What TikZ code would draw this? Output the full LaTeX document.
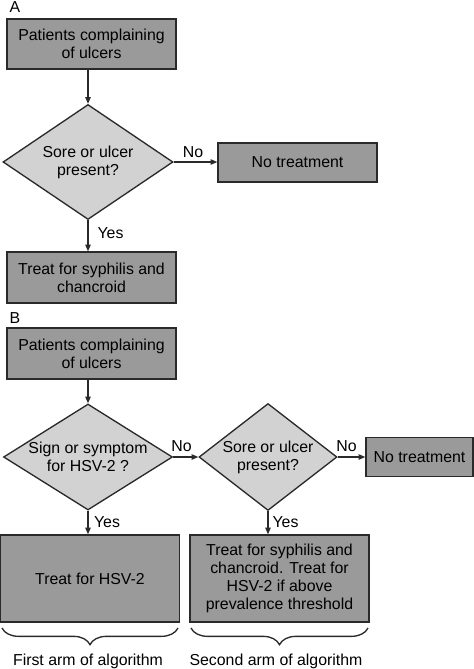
\documentclass[tikz,border=0pt]{standalone}
\usepackage{fontspec}
\setmainfont{Liberation Sans}
\usetikzlibrary{shapes.geometric,arrows.meta,decorations.pathreplacing}
\newlength\PX \setlength\PX{0.75pt}
\definecolor{boxgray}{HTML}{9A9A9A}
\definecolor{diagray}{HTML}{D2D2D2}
\definecolor{linegray}{HTML}{2A2A2A}
\begin{document}
\begin{tikzpicture}[x=0.75pt,y=-0.75pt,
  every node/.style={font=\fontsize{11.9}{13.4}\selectfont, text=black},
  stepbox/.style={rectangle, draw=linegray, line width=1pt, fill=boxgray, inner sep=0pt, align=center},
  decision/.style={diamond, draw=linegray, line width=1pt, fill=diagray, inner sep=0pt, aspect=1.5},
  conn/.style={draw=linegray, line width=1pt, -{Triangle[length=5pt,width=4pt]}},
  lbl/.style={inner sep=0pt},
  arm/.style={draw=linegray, line width=1pt, decorate, decoration={brace, mirror, amplitude=12.5pt}}
]
\useasboundingbox (0,0) rectangle (474,669);

% ---------- Part A ----------
\node[lbl] (lA) at (15,7) {A};
\node[stepbox, minimum width=169*\PX, minimum height=50*\PX] (a1) at (91.5,44) {Patients complaining\\of ulcers};
\node[decision, minimum width=170*\PX, minimum height=115*\PX,
      label={[align=center, inner sep=0pt]center:Sore or ulcer\\present?}] (d1) at (88,162) {};
\node[stepbox, minimum width=159*\PX, minimum height=39*\PX] (nt1) at (297.5,162.5) {No treatment};
\node[stepbox, minimum width=169*\PX, minimum height=51*\PX] (t1) at (91.5,277.5) {Treat for syphilis and\\chancroid};

\draw[conn] (d1.north |- a1.south) -- (d1.north);
\draw[conn] (d1.east) -- (d1.east -| nt1.west);
\draw[conn] (d1.south) -- (d1.south |- t1.north);
\node[lbl] (no1) at (193,152) {No};
\node[lbl] (yes1) at (110.5,233) {Yes};

% ---------- Part B ----------
\node[lbl] (lB) at (15,318) {B};
\node[stepbox, minimum width=169*\PX, minimum height=51*\PX] (b1) at (91.5,353.5) {Patients complaining\\of ulcers};
\node[decision, minimum width=169*\PX, minimum height=106*\PX,
      label={[align=center, inner sep=0pt]center:Sign or symptom\\for HSV-2 ?}] (d2) at (88,457) {};
\node[decision, minimum width=138*\PX, minimum height=107*\PX,
      label={[align=center, inner sep=0pt]center:Sore or ulcer\\present?}] (d3) at (268,457) {};
\node[stepbox, minimum width=107*\PX, minimum height=39*\PX] (nt2) at (419.5,457) {No treatment};
\node[stepbox, minimum width=179*\PX, minimum height=87*\PX] (t2) at (90,578.5) {Treat for HSV-2};
\node[stepbox, minimum width=179*\PX, minimum height=87*\PX] (t3) at (279.5,578.5) {Treat for syphilis and\\chancroid. Treat for\\HSV-2 if above\\prevalence threshold};

\draw[conn] (d2.north |- b1.south) -- (d2.north);
\draw[conn] (d2.east) -- (d2.east -| d3.west);
\draw[conn] (d3.east) -- (d3.east -| nt2.west);
\draw[conn] (d2.south) -- (d2.south |- t2.north);
\draw[conn] (d3.south) -- (d3.south |- t3.north);
\node[lbl] (no2) at (181.5,446) {No};
\node[lbl] (no3) at (346.5,446) {No};
\node[lbl] (yes2) at (107,522) {Yes};
\node[lbl] (yes3) at (285.5,522) {Yes};

% ---------- Braces ----------
\coordinate (br1a) at (2,628);
\coordinate (br1b) at (178,628);
\coordinate (br2a) at (191,628);
\coordinate (br2b) at (368,628);
\draw[arm] (br1a) -- (br1b);
\draw[arm] (br2a) -- (br2b);
\node[lbl] (arm1) at (88,661) {First arm of algorithm};
\node[lbl] (arm2) at (276,661) {Second arm of algorithm};
\end{tikzpicture}
\end{document}
